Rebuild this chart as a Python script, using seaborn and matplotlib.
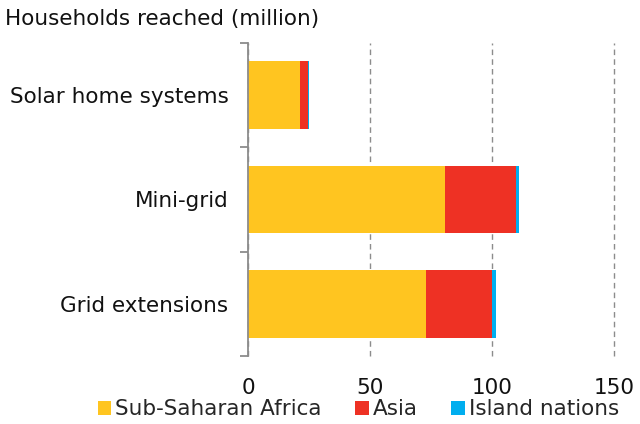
import matplotlib
matplotlib.use("Agg")
import matplotlib.pyplot as plt
from matplotlib.patches import Patch
import seaborn as sns
import pandas as pd

# Data (million households)
categories = ["Solar home systems", "Mini-grid", "Grid extensions"]
sub_saharan = [21.3, 80.9, 73.0]
asia = [3.2, 28.9, 26.9]
island = [0.6, 1.4, 1.9]

series_names = ["Sub-Saharan Africa", "Asia", "Island nations"]
colors = ["#FFC520", "#EE3124", "#00AEEF"]

sns.set_style("white")
plt.rcParams["font.family"] = ["DejaVu Sans"]
FS = 15.5

df = pd.DataFrame({"category": categories, "ssa": sub_saharan, "asia": asia, "island": island})
df["c1"] = df["ssa"]
df["c2"] = df["ssa"] + df["asia"]
df["c3"] = df["c2"] + df["island"]

fig = plt.figure(figsize=(6.4, 4.24), dpi=100)
ax = fig.add_axes([0.3875, 0.1604, 0.5715, 0.7382])

# stacked bars: draw cumulative totals from largest to smallest
for col, c in zip(["c3", "c2", "c1"], colors[::-1]):
    sns.barplot(data=df, y="category", x=col, orient="h", color=c,
                width=0.65, saturation=1, ax=ax, linewidth=0)

ax.set_xlim(0, 150)
ax.set_ylim(2.5, -0.5)
ax.set_xticks([0, 50, 100, 150])
ax.set_xlabel("")
ax.set_ylabel("")

# dashed vertical gridlines
ax.xaxis.grid(True, linestyle=(0, (4, 3)), color="#8c8c8c", linewidth=1)
for gl in ax.get_xgridlines():
    gl.set_clip_on(False)
ax.set_axisbelow(True)

for s in ["top", "right", "bottom"]:
    ax.spines[s].set_visible(False)
ax.spines["left"].set_color("#8c8c8c")
ax.spines["left"].set_linewidth(1.3)

ax.tick_params(axis="x", length=0, pad=16, labelsize=FS, labelcolor="#111111")
ax.tick_params(axis="y", which="major", length=0, pad=14, labelsize=FS, labelcolor="#111111")
ax.set_yticks([-0.5, 0.5, 1.5, 2.5], minor=True)
ax.tick_params(axis="y", which="minor", left=True, length=6, width=1.3, color="#8c8c8c")

fig.text(0.008, 0.955, "Households reached (million)", fontsize=FS, color="#111111",
         ha="left", va="center")

handles = [Patch(facecolor=c, edgecolor="none") for c in colors]
fig.legend(handles, series_names, loc="center", bbox_to_anchor=(0.56, 0.035), ncol=3,
           frameon=False, fontsize=FS, handlelength=0.62, handleheight=0.62,
           handletextpad=0.2, columnspacing=1.55, borderaxespad=0)

fig.savefig("out.png", dpi=100)
